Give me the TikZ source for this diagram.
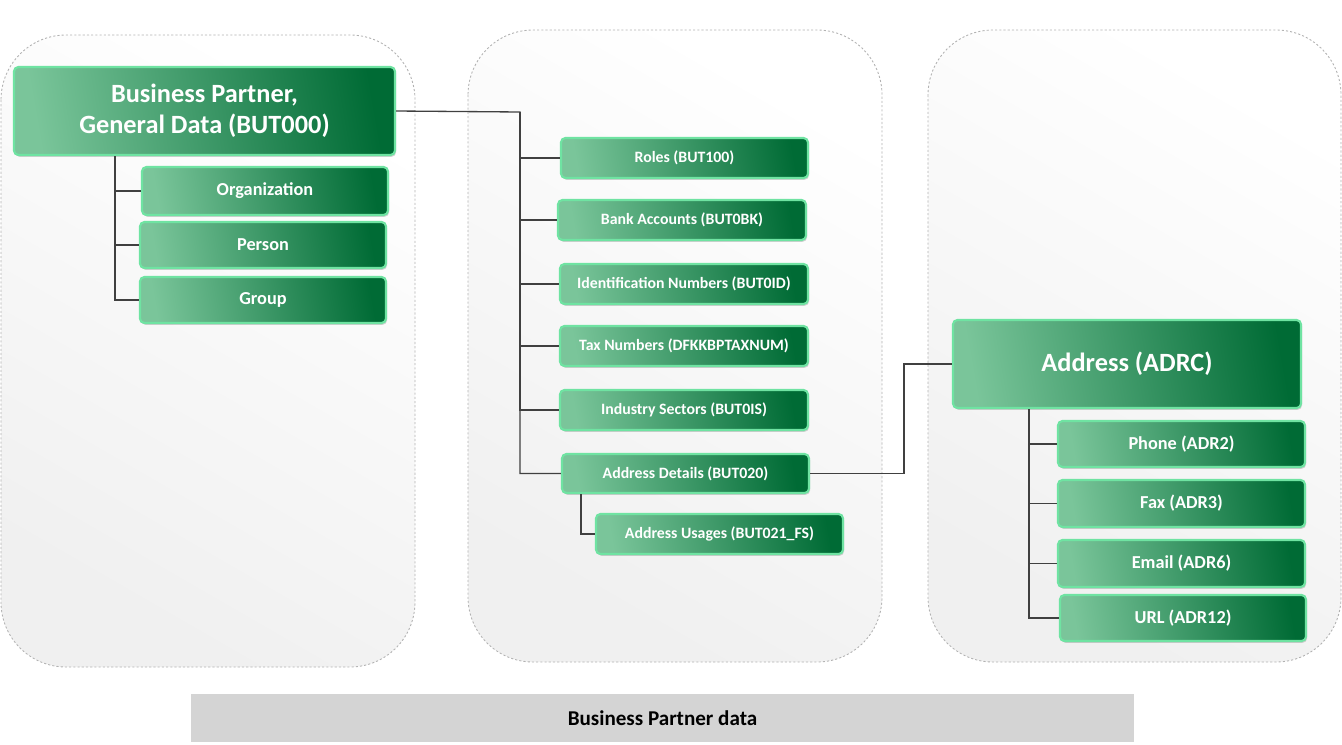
\documentclass[tikz,border=0pt]{standalone}
\usepackage{fontspec}
\setmainfont{Carlito}
\usetikzlibrary{shadows}
\definecolor{glight}{HTML}{7AC59A}
\definecolor{gmid}{HTML}{3FA267}
\definecolor{gdark}{HTML}{006B35}
\definecolor{gborder}{HTML}{6FE3A2}
\definecolor{conncol}{HTML}{404040}
\definecolor{barcol}{HTML}{D4D4D4}
\begin{document}
\begin{tikzpicture}[x=0.02cm,y=-0.02cm,
  wh/.style 2 args={minimum width=#1*0.02cm, minimum height=#2*0.02cm},
  panel/.style={draw=black!30, dash pattern=on 1.2pt off 1.2pt, line width=0.5pt,
     rounded corners=1.3cm, shading=axis, top color=white, bottom color=black!6, shading angle=-30},
  gbox/.style={draw=gborder, line width=1.2pt, rounded corners=2.5pt, inner sep=0pt,
     shading=axis, left color=glight, middle color=gmid, right color=gdark, shading angle=100,
     text=white, font=\bfseries, align=center,
     drop shadow={shadow xshift=0.6pt, shadow yshift=-1pt, opacity=0.35}},
  small/.style={gbox, font=\fontsize{9}{11}\selectfont\bfseries},
  mid/.style={gbox, font=\fontsize{10.4}{12}\selectfont\bfseries},
  big/.style={gbox, font=\fontsize{15}{17.6}\selectfont\bfseries},
  conn/.style={draw=conncol, line width=0.75pt}
]
\useasboundingbox (0,0) rectangle (1342,744);
% panels
\path[panel] (1,35) rectangle (415,667);
\path[panel] (468,30) rectangle (882,662);
\path[panel] (928,30) rectangle (1341,662);

% left panel
\node[big, wh={381}{88}] (but000) at (204.5,111) {Business Partner,\\General Data (BUT000)};
\node[mid, wh={246}{48}] (org) at (265,191) {Organization};
\node[mid, wh={246}{46}] (person) at (263,245) {Person};
\node[mid, wh={246}{46}] (group) at (263,300) {Group};

% middle panel
\node[small, wh={247}{40}] (roles) at (684.5,158) {Roles (BUT100)};
\node[small, wh={248}{40}] (bank) at (682,220) {Bank Accounts (BUT0BK)};
\node[small, wh={248}{40}] (idnum) at (684,284) {Identification Numbers (BUT0ID)};
\node[small, wh={248}{40}] (tax) at (684,346) {Tax Numbers (DFKKBPTAXNUM)};
\node[small, wh={248}{40}] (ind) at (684,410) {Industry Sectors (BUT0IS)};
\node[small, wh={247}{39}] (addrd) at (685.5,473.5) {Address Details (BUT020)};
\node[small, wh={247}{40}] (usage) at (719.5,534) {Address Usages (BUT021\_FS)};

% right panel
\node[big, wh={348}{88}] (adrc) at (1127,364) {Address (ADRC)};
\node[mid, wh={247}{46}] (phone) at (1181.5,444) {Phone (ADR2)};
\node[mid, wh={247}{47}] (fax) at (1181.5,503.5) {Fax (ADR3)};
\node[mid, wh={247}{47}] (email) at (1181.5,563.5) {Email (ADR6)};
\node[mid, wh={246}{46}] (url) at (1183,618) {URL (ADR12)};

% bottom bar
\node[fill=barcol, wh={943}{48}, inner sep=0pt, font=\fontsize{12}{14}\selectfont\bfseries] (bar) at (662.5,718) {Business Partner data};

% connectors left
\draw[conn] (but000.south west) ++(102,0) |- (org.west);
\draw[conn] (but000.south west) ++(102,0) |- (person.west);
\draw[conn] (but000.south west) ++(102,0) |- (group.west);

% connectors middle
\coordinate (trunk) at (520,112);
\draw[conn] (but000.east) -- (trunk) |- (addrd.west);
\draw[conn] (trunk) |- (roles.west);
\draw[conn] (trunk) |- (bank.west);
\draw[conn] (trunk) |- (idnum.west);
\draw[conn] (trunk) |- (tax.west);
\draw[conn] (trunk) |- (ind.west);
\draw[conn] (addrd.south west) ++(20,0) |- (usage.west);
\draw[conn] (addrd.east) -- ++(94,0) |- (adrc.west);

% connectors right
\draw[conn] (adrc.south west) ++(77,0) |- (phone.west);
\draw[conn] (adrc.south west) ++(77,0) |- (fax.west);
\draw[conn] (adrc.south west) ++(77,0) |- (email.west);
\draw[conn] (adrc.south west) ++(77,0) |- (url.west);
\end{tikzpicture}
\end{document}
